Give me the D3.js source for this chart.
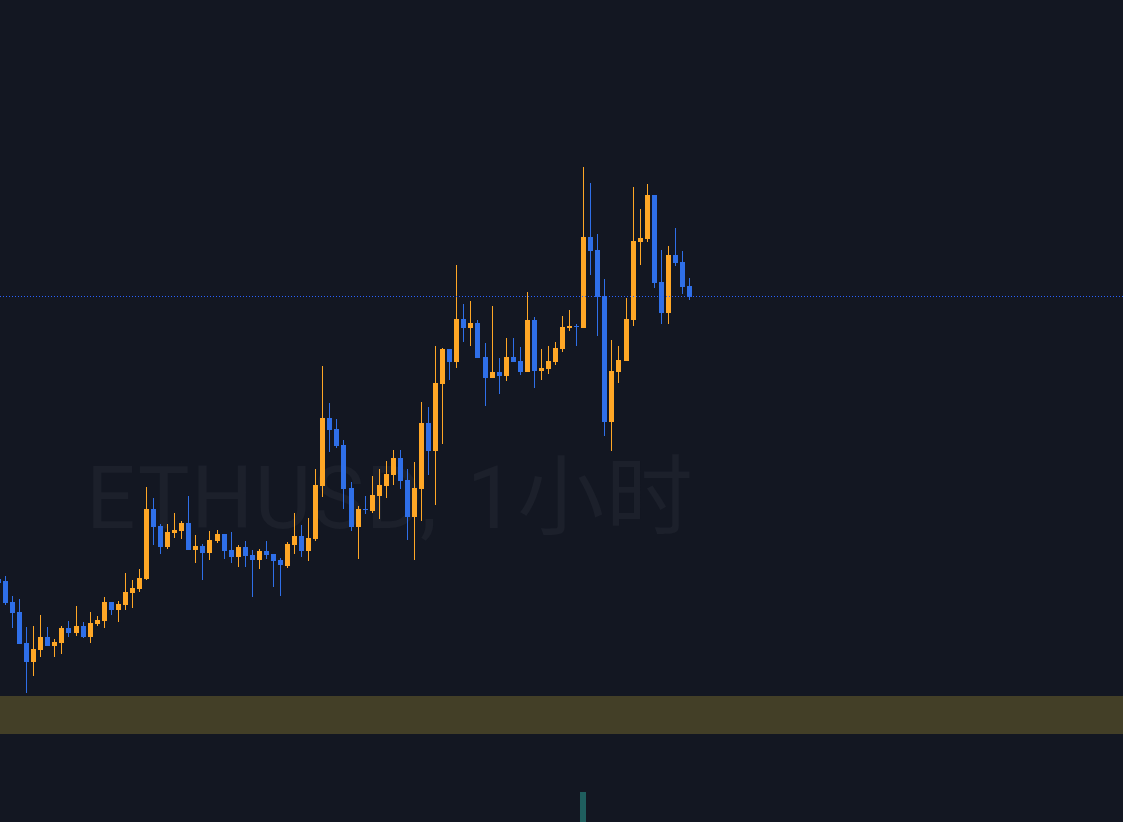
<!DOCTYPE html>
<html>
<head>
<meta charset="utf-8">
<script src="https://cdn.jsdelivr.net/npm/d3@7"></script>
<style>
    html, body { margin: 0; padding: 0; background: #131722; overflow: hidden; }
</style>
</head>
<body>
<svg id="chart" width="1123" height="822"></svg>
<script>
// ETHUSD 1h candles (first one is cut by the left edge)
var opens = [
    1710.5, 1709.5, 1699, 1694, 1678.5, 1669, 1675, 1681.5, 1677, 1678.5,
    1686, 1683.5, 1687, 1681.5, 1688, 1689.5, 1699, 1695, 1697.5, 1703.5,
    1705.5, 1710.5, 1745.5, 1737, 1726.5, 1733.5, 1734.5, 1738.5, 1725, 1727,
    1723.5, 1729.5, 1733, 1725, 1721.5, 1726.5, 1722.5, 1720, 1724.5, 1723,
    1720, 1717, 1727.5, 1732, 1724.5, 1730.5, 1757, 1791, 1785.5, 1777.5,
    1756, 1736.5, 1745.5, 1744.5, 1752, 1757, 1762.5, 1771, 1760, 1741.5,
    1755.5, 1788.5, 1774.5, 1808, 1825.5, 1819, 1840.5, 1836, 1838.5, 1821.5,
    1811, 1814, 1812, 1821.5, 1819.5, 1814, 1840, 1814.5, 1815.5, 1819,
    1825.5, 1836, 1837, 1836, 1881.5, 1875, 1852, 1789, 1814, 1819.5,
    1840, 1879, 1880.5, 1902.5, 1859, 1843.5, 1872.5, 1869, 1857
];
var highs = [
    1711.5, 1712, 1702, 1700.5, 1686.5, 1687, 1692.5, 1686.5, 1680.5, 1687,
    1689.5, 1697, 1689, 1694, 1692, 1701.5, 1699, 1699.5, 1713.5, 1710,
    1715.5, 1756.5, 1751, 1738, 1738, 1743.5, 1739.5, 1752, 1732.5, 1728,
    1734.5, 1735, 1733, 1734, 1727.5, 1729.5, 1725, 1725.5, 1729.5, 1723,
    1721, 1729, 1743.5, 1737.5, 1741, 1765.5, 1817, 1798.5, 1790.5, 1780,
    1759, 1747, 1752, 1762, 1765.5, 1769.5, 1775, 1775, 1765.5, 1769,
    1799, 1796.5, 1827, 1826, 1825.5, 1867.5, 1848, 1849.5, 1840, 1828.5,
    1847, 1821, 1831, 1831, 1826.5, 1854, 1841.5, 1825.5, 1827, 1829,
    1842, 1845, 1838, 1916.5, 1908.5, 1883, 1860.5, 1830, 1827, 1851,
    1906.5, 1895.5, 1908, 1902.5, 1875, 1877, 1886, 1874.5, 1861
];
var lows = [
    1707.5, 1697.5, 1686, 1678, 1653.5, 1662, 1671.5, 1677, 1671.5, 1673,
    1681.5, 1682, 1681, 1678.5, 1687, 1686, 1692.5, 1689, 1695, 1696,
    1704, 1710, 1727.5, 1723, 1725.5, 1731, 1730.5, 1725, 1718.5, 1710,
    1720, 1728.5, 1720.5, 1718.5, 1716.5, 1716.5, 1701.5, 1715.5, 1720.5, 1706.5,
    1702, 1716, 1723, 1721.5, 1719.5, 1729.5, 1751.5, 1774, 1776, 1745.5,
    1734.5, 1720.5, 1743, 1743.5, 1740.5, 1751, 1757.5, 1755.5, 1730, 1720,
    1739.5, 1762.5, 1747.5, 1778, 1810, 1816, 1829, 1827, 1821, 1797,
    1811, 1803, 1809.5, 1819, 1812.5, 1814, 1806, 1810, 1813, 1817.5,
    1824, 1834.5, 1827, 1836, 1862.5, 1832, 1782, 1774.5, 1808.5, 1819.5,
    1837, 1867.5, 1879, 1856, 1838, 1838, 1867, 1853, 1850
];
var closes = [
    1708.5, 1698.5, 1693.5, 1678, 1669, 1675.5, 1681.5, 1677, 1679, 1686,
    1683.5, 1687, 1681.5, 1688.5, 1690, 1699, 1695, 1698, 1704, 1706,
    1711, 1745.5, 1736.5, 1726.5, 1734, 1735, 1738.5, 1725, 1727, 1723.5,
    1730, 1733, 1724.5, 1721.5, 1726.5, 1722, 1720, 1724.5, 1722.5, 1719.5,
    1717.5, 1728, 1732, 1724.5, 1731, 1757.5, 1791, 1785, 1777, 1755.5,
    1736.5, 1745.5, 1745, 1752.5, 1757.5, 1763, 1771, 1759.5, 1741.5, 1756,
    1788.5, 1774.5, 1808.5, 1825.5, 1819, 1840.5, 1836, 1838.5, 1821, 1811,
    1814, 1812, 1821.5, 1819, 1814, 1840, 1814.5, 1816, 1819.5, 1826,
    1836.5, 1837, 1836.5, 1881.5, 1874.5, 1851.5, 1789, 1814.5, 1820, 1840.5,
    1879.5, 1881, 1902.5, 1858.5, 1843.5, 1872.5, 1868.5, 1856.5, 1851.5
];

// volume pane: only one bar reaches into view
var volIdx = [83];
var volVals = [1250];

var symbolText = "ETHUSD, 1小时";

var upColor = "#ffa726",
    downColor = "#2f6fe8";

var svg = d3.select("#chart"),
    width = +svg.attr("width"),
    height = +svg.attr("height");

svg.append("rect")
    .attr("width", width)
    .attr("height", height)
    .attr("fill", "#131722");

// watermark
svg.append("text")
    .attr("x", 86)
    .attr("y", 528)
    .attr("fill", "#1c202b")
    .style("font-family", "Roboto, 'Noto Sans CJK SC', sans-serif")
    .style("font-size", "87px")
    .style("letter-spacing", "1.5px")
    .style("word-spacing", "5px")
    .text(symbolText);

var x = d3.scaleLinear()
    .domain([0, opens.length - 1])
    .range([-1.55, 689.5]);

var y = d3.scaleLinear()
    .domain([2000, 1589])
    .range([0, 822]);

var data = d3.range(opens.length).map(function (i) {
    return { i: i, o: opens[i], h: highs[i], l: lows[i], c: closes[i] };
});

function color(d) { return d.c >= d.o ? upColor : downColor; }

var candle = svg.append("g").selectAll("g")
    .data(data)
    .enter().append("g");

// wicks
candle.append("rect")
    .attr("x", function (d) { return Math.floor(x(d.i)); })
    .attr("width", 1)
    .attr("y", function (d) { return Math.round(y(d.h)); })
    .attr("height", function (d) { return Math.max(1, Math.round(y(d.l)) - Math.round(y(d.h))); })
    .attr("fill", color);

// bodies
candle.append("rect")
    .attr("x", function (d) { return Math.floor(x(d.i)) - 2; })
    .attr("width", 5)
    .attr("y", function (d) { return Math.round(y(Math.max(d.o, d.c))); })
    .attr("height", function (d) {
        return Math.max(1, Math.round(y(Math.min(d.o, d.c))) - Math.round(y(Math.max(d.o, d.c))));
    })
    .attr("fill", color);

// last price line
var lastY = Math.round(y(closes[closes.length - 1])) - 0.5;
svg.append("line")
    .attr("x1", 0)
    .attr("x2", width)
    .attr("y1", lastY)
    .attr("y2", lastY)
    .attr("stroke", "#2962ff")
    .attr("stroke-width", 1)
    .attr("stroke-dasharray", "1,2");

// pane band
svg.append("rect")
    .attr("x", 0)
    .attr("y", 696)
    .attr("width", width)
    .attr("height", 38)
    .attr("fill", "#433f27");

// volume
var vy = d3.scaleLinear()
    .domain([0, d3.max(volVals)])
    .range([822, 792]);

svg.append("g").selectAll("rect")
    .data(volIdx)
    .enter().append("rect")
    .attr("x", function (d) { return Math.floor(x(d)) - 3; })
    .attr("width", 6)
    .attr("y", function (d, k) { return vy(volVals[k]); })
    .attr("height", function (d, k) { return 822 - vy(volVals[k]); })
    .attr("fill", "#1f5e5e");
</script>
</body>
</html>
